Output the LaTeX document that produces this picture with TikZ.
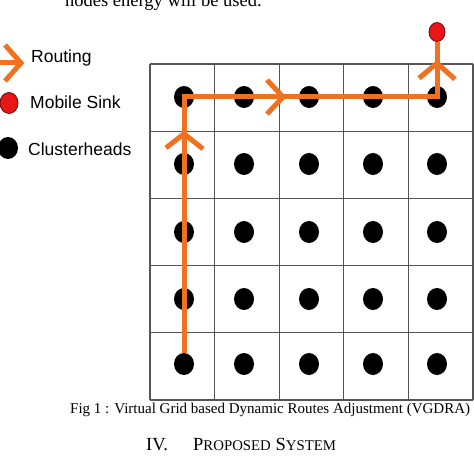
\documentclass[tikz,border=0pt]{standalone}
\usepackage{fontspec}
\setmainfont{Liberation Serif}
\newfontfamily\legendfont{Liberation Sans}
\usetikzlibrary{shapes,positioning,calc}
\definecolor{routeorange}{RGB}{240,113,32}
\definecolor{sinkred}{RGB}{232,22,22}
\definecolor{sinkrim}{RGB}{100,10,10}
\definecolor{gridgray}{RGB}{85,85,85}
\newcommand{\smallcap}[1]{{\fontsize{14.8bp}{18bp}\selectfont #1}}

\begin{document}
\begin{tikzpicture}[x=1bp, y=-1bp,
    route/.style={draw=routeorange, line width=5bp},
    chead/.style={ellipse, fill=black, minimum width=20bp, minimum height=22bp, inner sep=0pt},
    sink/.style={ellipse, draw=sinkrim, fill=sinkred, line width=0.8bp, minimum width=16bp, minimum height=19bp, inner sep=0pt},
    legend/.style={anchor=base west, inner sep=0pt, font=\legendfont\fontsize{17.5bp}{20bp}\selectfont},
    textline/.style={anchor=base west, inner sep=0pt}]
    \useasboundingbox (0,0) rectangle (474,467);

    \foreach \i in {0,...,5} {
        \draw[gridgray, line width=1.1bp] (150+64.6*\i,64) -- (150+64.6*\i,400);
        \draw[gridgray, line width=1.1bp] (150,64+67.2*\i) -- (473,64+67.2*\i);
    }

    \foreach \c/\x in {1/184,2/244,3/309,4/373,5/437}
        \foreach \r/\y in {1/97,2/164,3/232,4/299,5/364}
            \node[chead] (c\r\c) at (\x,\y) {};

    \node[sink] (sink) at (437,32) {};

    \draw[route, line join=miter] (c51.north) |- (c15.center) -- (sink.south);

    \coordinate (up1) at ($(c11)!0.55!(c21)$);
    \coordinate (right1) at ($(c12)!0.6!(c13)$);
    \coordinate (up2) at ($(sink)!0.48!(c15)$);
    \draw[route] ($(up1)+(-18,14)$) -- (up1) -- ($(up1)+(19,15)$);
    \draw[route] ($(right1)+(-16,-17)$) -- (right1) -- ($(right1)+(-16,17)$);
    \draw[route] ($(up2)+(-18,15)$) -- (up2) -- ($(up2)+(18,16)$);

    \coordinate (legtip) at (21,63);
    \coordinate (legtail) at (-2,63);
    \draw[route] (legtail) -- (legtip);
    \draw[route] ($(legtip)+(-16,-18)$) -- (legtip) -- ($(legtip)+(-16,18)$);
    \node[legend] (routing) at (31,63) {Routing};
    \node[sink, minimum width=18bp, minimum height=21bp] (legsink) at (9,103) {};
    \node[legend] (mobile) at (30,109) {Mobile Sink};
    \node[chead] (leghead) at (8,148) {};
    \node[legend] (heads) at (28,156) {Clusterheads};

    \node[textline, font=\fontsize{18.5bp}{22bp}\selectfont] (bodyline) at (65,7) {nodes energy will be used.};
    \node[textline, font=\fontsize{15bp}{18bp}\selectfont] (caption) at (70,413) {Fig 1 : Virtual Grid based Dynamic Routes Adjustment (VGDRA)};
    \node[textline, font=\fontsize{18.5bp}{22bp}\selectfont] (secnum) at (146,450) {IV.};
    \node[textline, font=\fontsize{18.5bp}{22bp}\selectfont] (sectitle) at (193,450) {P\smallcap{ROPOSED} S\smallcap{YSTEM}};
\end{tikzpicture}
\end{document}
